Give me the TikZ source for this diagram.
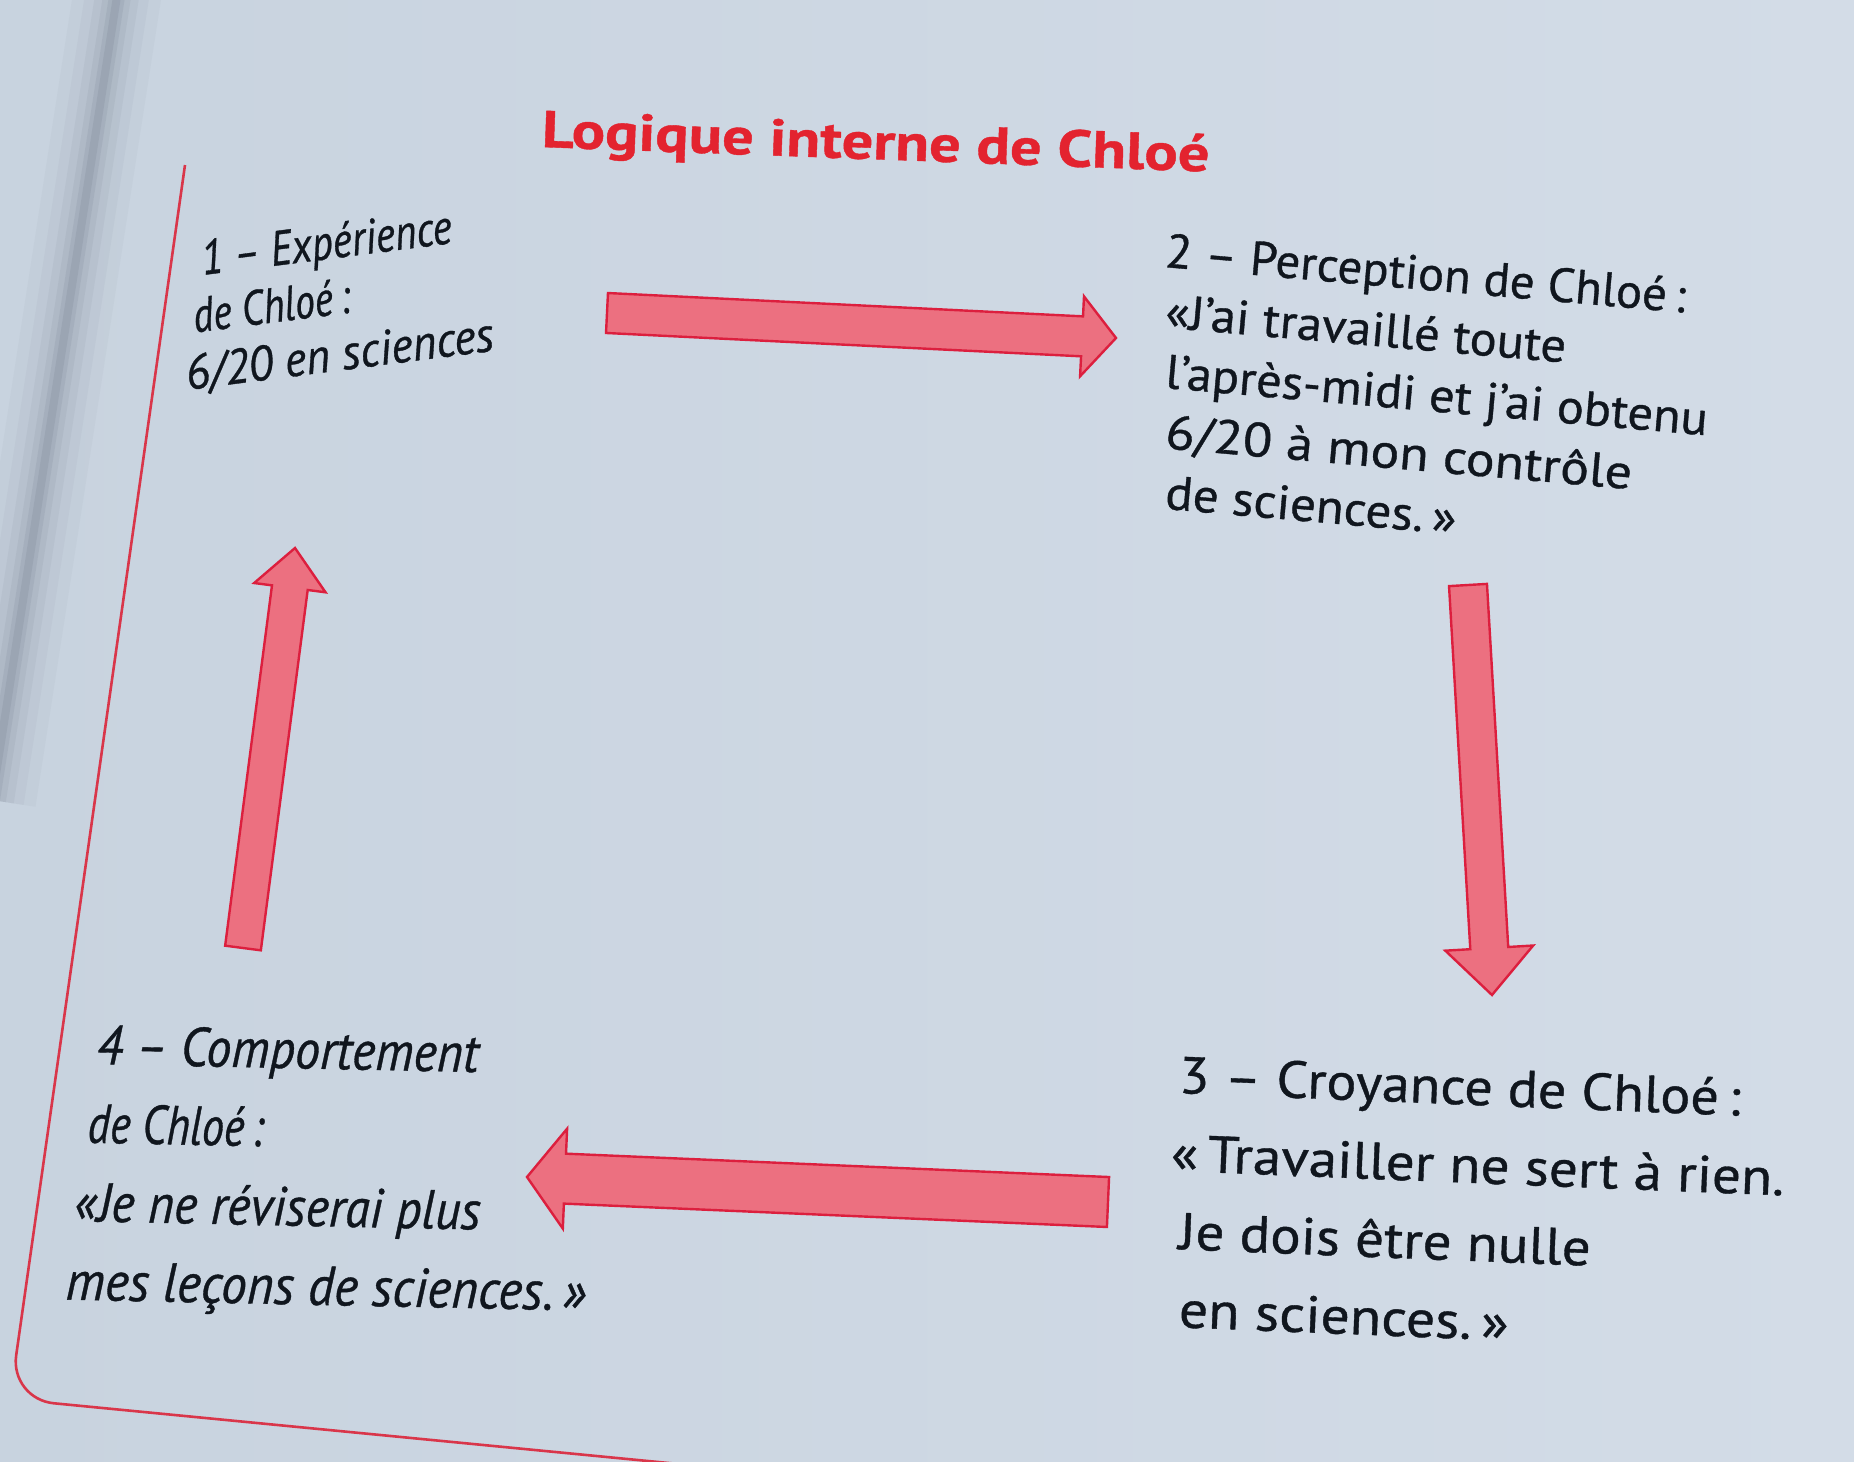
\documentclass[tikz,border=0pt]{standalone}
\usepackage{fontspec}
\setmainfont{PT Sans}[FakeBold=0.7]
\usepackage{graphicx}
\usetikzlibrary{calc}
\definecolor{pageleft}{HTML}{C8D3DF}
\definecolor{pageright}{HTML}{D3DCE7}
\definecolor{ink}{HTML}{10161E}
\definecolor{titlered}{HTML}{E3232F}
\definecolor{arrowfill}{HTML}{EC7080}
\definecolor{arrowline}{HTML}{DC1F3E}
\definecolor{framered}{HTML}{D9364A}
\definecolor{guttergray}{HTML}{6E7888}
\newcommand\fw[2]{\resizebox{#1}{\height}{#2}}
% a text line, indented by #1, scaled to width #2
\newcommand\tl[3]{\hbox{\hspace*{#1}\fw{#2}{#3}}}
% #1 start, #2 tip, #3 shaft half width, #4 head half width, #5 head length
\newcommand\blockarrow[5]{%
  \coordinate (hb) at ($(#2)!#5!(#1)$);
  \path[bigarrow]
    ($(#1)!#3!90:(#2)$) -- ($(hb)!#3!90:(#2)$) -- ($(hb)!#4!90:(#2)$) -- (#2)
    -- ($(hb)!#4!-90:(#2)$) -- ($(hb)!#3!-90:(#2)$) -- ($(#1)!#3!-90:(#2)$) -- cycle;
}
\tikzset{
  txtblock/.style={anchor=base west, inner sep=0pt, text=ink},
  upr2/.style={txtblock, font=\fontsize{24}{28}\selectfont},
  upr3/.style={txtblock, font=\fontsize{26}{30}\selectfont},
  itl1/.style={txtblock, font=\fontsize{24.5}{28}\selectfont\itshape},
  itl4/.style={txtblock, font=\fontsize{27.5}{32}\selectfont\itshape},
  ttl/.style={anchor=base west, inner sep=0pt, text=titlered, font=\fontsize{26}{30}\selectfont\bfseries},
  bigarrow/.style={fill=arrowfill, draw=arrowline, line width=1.2pt, line join=miter},
  framestyle/.style={draw=framered, line width=1.3pt, rounded corners=22pt},
}
\begin{document}
\begin{tikzpicture}[x=0.5pt,y=-0.5pt]
\useasboundingbox (0,0) rectangle (1854,1462);
\shade[left color=pageleft, right color=pageright] (0,0) rectangle (1854,1462);
\begin{scope}
\clip (0,0) rectangle (1854,1462);
% soft shadow of the book's gutter
\foreach \w/\o in {44/.05, 32/.06, 22/.08, 14/.10, 8/.14, 4/.18}
  \draw[guttergray, line width=\w pt, opacity=\o] (118,-10) -- (-8,800);
% frame
\draw[framestyle] (185,165) -- (10,1399) -- (720,1468);
\end{scope}

% title
\node[ttl, rotate=-2.1] (title) at (541,147) {\fw{334pt}{Logique interne de Chloé}};

% 1 - Expérience
\node[itl1, rotate=7.3] (box1) at (173.2,278.8) {\vtop{\baselineskip=28pt\lineskiplimit=-100pt
  \tl{15pt}{126pt}{1 – Expérience}
  \tl{7.25pt}{79pt}{de Chloé\,:}
  \tl{0pt}{155pt}{6/20 en sciences}}};

% 2 - Perception
\node[upr2, rotate=-5] (box2) at (1164,267) {\vtop{\baselineskip=30.1pt\lineskiplimit=-100pt
  \tl{0pt}{261pt}{2 – Perception de Chloé\,:}
  \tl{2.6pt}{201pt}{«J’ai travaillé toute}
  \tl{5.3pt}{272pt}{l’après-midi et j’ai obtenu}
  \tl{7.9pt}{234pt}{6/20 à mon contrôle}
  \tl{10.5pt}{146pt}{de sciences.\,»}}};

% 3 - Croyance
\node[upr3, rotate=-2.3] (box3) at (1173.1,1092.8) {\vtop{\baselineskip=39pt\lineskiplimit=-100pt
  \tl{2.45pt}{281pt}{3 – Croyance de Chloé\,:}
  \tl{0pt}{307pt}{«\,Travailler ne sert à rien.}
  \tl{5.6pt}{206pt}{Je dois être nulle}
  \tl{7.15pt}{165pt}{en sciences.\,»}}};

% 4 - Comportement
\node[itl4, rotate=-1.2] (box4) at (69.9,1063.5) {\vtop{\baselineskip=39.35pt\lineskiplimit=-100pt
  \tl{13.05pt}{191pt}{4 – Comportement}
  \tl{9.35pt}{88pt}{de Chloé\,:}
  \tl{3.7pt}{203pt}{«Je ne réviserai plus}
  \tl{0pt}{260pt}{mes leçons de sciences.\,»}}};

% arrow end points
\coordinate (a12s) at (607,313);  \coordinate (a12e) at (1116,338);
\coordinate (a23s) at (1468,585); \coordinate (a23e) at (1492,995);
\coordinate (a34s) at (1108,1202);\coordinate (a34e) at (527,1177);
\coordinate (a41s) at (243,948);  \coordinate (a41e) at (295,548);

\blockarrow{a12s}{a12e}{10pt}{20pt}{17pt}
\blockarrow{a23s}{a23e}{9.5pt}{22pt}{23.5pt}
\blockarrow{a34s}{a34e}{12.5pt}{25pt}{19pt}
\blockarrow{a41s}{a41e}{9pt}{18pt}{20pt}
\end{tikzpicture}
\end{document}
